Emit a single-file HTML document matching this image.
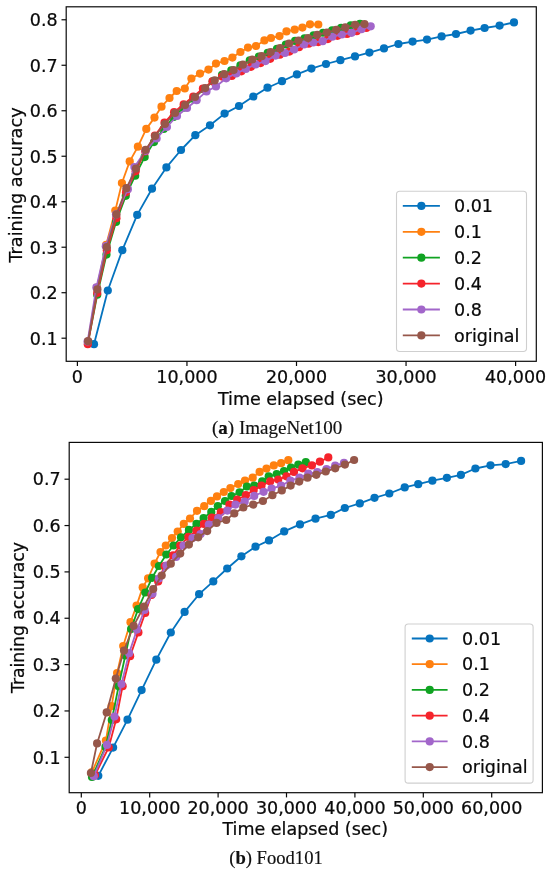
<!DOCTYPE html>
<html lang="en"><head><meta charset="utf-8"><title>Training accuracy vs time elapsed</title>
<style>
html,body{margin:0;padding:0;background:#fff}
body{width:550px;height:870px;overflow:hidden}
svg{display:block}
svg text{font-family:"DejaVu Sans","Liberation Sans",sans-serif;font-size:17.5px;fill:#0a0a0a;stroke:#000;stroke-width:0.22px}
svg text.cap{font-family:"Liberation Serif","DejaVu Serif",serif;font-size:19px;fill:#111;stroke-width:0.15px}
</style></head><body>
<svg width="550" height="870" viewBox="0 0 550 870">
<rect width="550" height="870" fill="#fff"/>
<polyline points="94,344.2 107.8,290.5 122.3,250.2 137.2,214.9 152,188.7 166.4,167.4 181,150 195.3,135.2 210,125.3 224.6,113.6 239,106 253.3,96.5 267.5,87.7 282,81.2 296.9,74.4 311.4,68.6 326,64 340.4,60.2 355,56.4 369.4,52.6 384,48.4 398.4,44 412.6,41.6 427,39.6 441.6,36.4 456,34 470.6,30.6 484.6,28 499.6,25.6 514,22.4" fill="none" stroke="#0573be" stroke-width="1.8" stroke-linejoin="round"/>
<g fill="#0573be"><circle cx="94" cy="344.2" r="4.1"/><circle cx="107.8" cy="290.5" r="4.1"/><circle cx="122.3" cy="250.2" r="4.1"/><circle cx="137.2" cy="214.9" r="4.1"/><circle cx="152" cy="188.7" r="4.1"/><circle cx="166.4" cy="167.4" r="4.1"/><circle cx="181" cy="150" r="4.1"/><circle cx="195.3" cy="135.2" r="4.1"/><circle cx="210" cy="125.3" r="4.1"/><circle cx="224.6" cy="113.6" r="4.1"/><circle cx="239" cy="106" r="4.1"/><circle cx="253.3" cy="96.5" r="4.1"/><circle cx="267.5" cy="87.7" r="4.1"/><circle cx="282" cy="81.2" r="4.1"/><circle cx="296.9" cy="74.4" r="4.1"/><circle cx="311.4" cy="68.6" r="4.1"/><circle cx="326" cy="64" r="4.1"/><circle cx="340.4" cy="60.2" r="4.1"/><circle cx="355" cy="56.4" r="4.1"/><circle cx="369.4" cy="52.6" r="4.1"/><circle cx="384" cy="48.4" r="4.1"/><circle cx="398.4" cy="44" r="4.1"/><circle cx="412.6" cy="41.6" r="4.1"/><circle cx="427" cy="39.6" r="4.1"/><circle cx="441.6" cy="36.4" r="4.1"/><circle cx="456" cy="34" r="4.1"/><circle cx="470.6" cy="30.6" r="4.1"/><circle cx="484.6" cy="28" r="4.1"/><circle cx="499.6" cy="25.6" r="4.1"/><circle cx="514" cy="22.4" r="4.1"/></g>
<polyline points="88,341.5 97,287.5 106.2,244.8 115.3,210.6 121.9,183 129.7,161.4 137.9,146.7 146.3,128.9 154.5,117.6 161.5,106.7 169.5,98 176.7,91 184.8,88.5 191.4,78.5 200,73.6 208.5,69.6 216,63.6 224.5,61 232.4,57.6 240.4,52 248,47.6 256,46 264.4,40.4 271,38 279.5,36.1 286.5,31.4 294.7,29.7 302.4,27.6 310,24.3 318.3,24.5" fill="none" stroke="#ff8010" stroke-width="1.8" stroke-linejoin="round"/>
<g fill="#ff8010"><circle cx="88" cy="341.5" r="4.1"/><circle cx="97" cy="287.5" r="4.1"/><circle cx="106.2" cy="244.8" r="4.1"/><circle cx="115.3" cy="210.6" r="4.1"/><circle cx="121.9" cy="183" r="4.1"/><circle cx="129.7" cy="161.4" r="4.1"/><circle cx="137.9" cy="146.7" r="4.1"/><circle cx="146.3" cy="128.9" r="4.1"/><circle cx="154.5" cy="117.6" r="4.1"/><circle cx="161.5" cy="106.7" r="4.1"/><circle cx="169.5" cy="98" r="4.1"/><circle cx="176.7" cy="91" r="4.1"/><circle cx="184.8" cy="88.5" r="4.1"/><circle cx="191.4" cy="78.5" r="4.1"/><circle cx="200" cy="73.6" r="4.1"/><circle cx="208.5" cy="69.6" r="4.1"/><circle cx="216" cy="63.6" r="4.1"/><circle cx="224.5" cy="61" r="4.1"/><circle cx="232.4" cy="57.6" r="4.1"/><circle cx="240.4" cy="52" r="4.1"/><circle cx="248" cy="47.6" r="4.1"/><circle cx="256" cy="46" r="4.1"/><circle cx="264.4" cy="40.4" r="4.1"/><circle cx="271" cy="38" r="4.1"/><circle cx="279.5" cy="36.1" r="4.1"/><circle cx="286.5" cy="31.4" r="4.1"/><circle cx="294.7" cy="29.7" r="4.1"/><circle cx="302.4" cy="27.6" r="4.1"/><circle cx="310" cy="24.3" r="4.1"/><circle cx="318.3" cy="24.5" r="4.1"/></g>
<polyline points="88.1,342.2 97.25,294.76 106.49,254.59 116.03,221.97 125.78,195.84 135.22,175.68 144.67,157.12 154.01,142.08 163.66,129.02 173.6,117.02 183.45,107.74 193.29,98.86 203.34,89.22 212.69,81.33 222.03,74.92 231.28,70.41 240.42,65.44 249.77,60.24 258.91,56.49 267.75,52.74 277,48.79 285.85,44.5 295.09,40.89 304.54,38.23 313.58,35.39 323.02,32.73 332.17,30.27 341.12,27.8 350.76,25.25 360,23.73" fill="none" stroke="#10a322" stroke-width="1.8" stroke-linejoin="round"/>
<g fill="#10a322"><circle cx="88.1" cy="342.2" r="4.1"/><circle cx="97.25" cy="294.76" r="4.1"/><circle cx="106.49" cy="254.59" r="4.1"/><circle cx="116.03" cy="221.97" r="4.1"/><circle cx="125.78" cy="195.84" r="4.1"/><circle cx="135.22" cy="175.68" r="4.1"/><circle cx="144.67" cy="157.12" r="4.1"/><circle cx="154.01" cy="142.08" r="4.1"/><circle cx="163.66" cy="129.02" r="4.1"/><circle cx="173.6" cy="117.02" r="4.1"/><circle cx="183.45" cy="107.74" r="4.1"/><circle cx="193.29" cy="98.86" r="4.1"/><circle cx="203.34" cy="89.22" r="4.1"/><circle cx="212.69" cy="81.33" r="4.1"/><circle cx="222.03" cy="74.92" r="4.1"/><circle cx="231.28" cy="70.41" r="4.1"/><circle cx="240.42" cy="65.44" r="4.1"/><circle cx="249.77" cy="60.24" r="4.1"/><circle cx="258.91" cy="56.49" r="4.1"/><circle cx="267.75" cy="52.74" r="4.1"/><circle cx="277" cy="48.79" r="4.1"/><circle cx="285.85" cy="44.5" r="4.1"/><circle cx="295.09" cy="40.89" r="4.1"/><circle cx="304.54" cy="38.23" r="4.1"/><circle cx="313.58" cy="35.39" r="4.1"/><circle cx="323.02" cy="32.73" r="4.1"/><circle cx="332.17" cy="30.27" r="4.1"/><circle cx="341.12" cy="27.8" r="4.1"/><circle cx="350.76" cy="25.25" r="4.1"/><circle cx="360" cy="23.73" r="4.1"/></g>
<polyline points="87.8,344.2 97.21,292.96 106.82,250.13 116.43,218.13 126.04,192.15 135.65,171.31 145.26,151.46 154.87,135.53 164.48,122.71 174.09,112.19 183.7,104.24 193.31,96.55 202.92,88.59 212.53,81.36 222.14,76.54 231.76,75.9 241.37,71.35 250.98,66.87 260.59,63.04 270.2,58.84 279.81,54.72 289.42,51.58 299.03,47.26 308.64,43.74 318.25,42.11 327.86,39.08 337.47,35.8 347.08,33.88 356.69,31.23 366.3,27.97" fill="none" stroke="#f5232b" stroke-width="1.8" stroke-linejoin="round"/>
<g fill="#f5232b"><circle cx="87.8" cy="344.2" r="4.1"/><circle cx="97.21" cy="292.96" r="4.1"/><circle cx="106.82" cy="250.13" r="4.1"/><circle cx="116.43" cy="218.13" r="4.1"/><circle cx="126.04" cy="192.15" r="4.1"/><circle cx="135.65" cy="171.31" r="4.1"/><circle cx="145.26" cy="151.46" r="4.1"/><circle cx="154.87" cy="135.53" r="4.1"/><circle cx="164.48" cy="122.71" r="4.1"/><circle cx="174.09" cy="112.19" r="4.1"/><circle cx="183.7" cy="104.24" r="4.1"/><circle cx="193.31" cy="96.55" r="4.1"/><circle cx="202.92" cy="88.59" r="4.1"/><circle cx="212.53" cy="81.36" r="4.1"/><circle cx="222.14" cy="76.54" r="4.1"/><circle cx="231.76" cy="75.9" r="4.1"/><circle cx="241.37" cy="71.35" r="4.1"/><circle cx="250.98" cy="66.87" r="4.1"/><circle cx="260.59" cy="63.04" r="4.1"/><circle cx="270.2" cy="58.84" r="4.1"/><circle cx="279.81" cy="54.72" r="4.1"/><circle cx="289.42" cy="51.58" r="4.1"/><circle cx="299.03" cy="47.26" r="4.1"/><circle cx="308.64" cy="43.74" r="4.1"/><circle cx="318.25" cy="42.11" r="4.1"/><circle cx="327.86" cy="39.08" r="4.1"/><circle cx="337.47" cy="35.8" r="4.1"/><circle cx="347.08" cy="33.88" r="4.1"/><circle cx="356.69" cy="31.23" r="4.1"/><circle cx="366.3" cy="27.97" r="4.1"/></g>
<polyline points="87.6,341.5 96.4,287.4 105.8,246.2 116,214.4 127.9,189.2 134.4,167 145.6,150.8 156.6,138.5 166.9,127 177,116 187,108 196.6,100.2 206.5,91.4 216,86.5 226.2,78.3 236.3,73.4 245.8,69 255.6,64.4 265.5,61.1 275.6,55.6 284.9,53 294.1,49.5 304,44.4 313.2,42.5 322.7,41.2 332.3,36.7 341.8,34.5 351.6,32.8 361.4,29.2 370.7,26.3" fill="none" stroke="#a266ca" stroke-width="1.8" stroke-linejoin="round"/>
<g fill="#a266ca"><circle cx="87.6" cy="341.5" r="4.1"/><circle cx="96.4" cy="287.4" r="4.1"/><circle cx="105.8" cy="246.2" r="4.1"/><circle cx="116" cy="214.4" r="4.1"/><circle cx="127.9" cy="189.2" r="4.1"/><circle cx="134.4" cy="167" r="4.1"/><circle cx="145.6" cy="150.8" r="4.1"/><circle cx="156.6" cy="138.5" r="4.1"/><circle cx="166.9" cy="127" r="4.1"/><circle cx="177" cy="116" r="4.1"/><circle cx="187" cy="108" r="4.1"/><circle cx="196.6" cy="100.2" r="4.1"/><circle cx="206.5" cy="91.4" r="4.1"/><circle cx="216" cy="86.5" r="4.1"/><circle cx="226.2" cy="78.3" r="4.1"/><circle cx="236.3" cy="73.4" r="4.1"/><circle cx="245.8" cy="69" r="4.1"/><circle cx="255.6" cy="64.4" r="4.1"/><circle cx="265.5" cy="61.1" r="4.1"/><circle cx="275.6" cy="55.6" r="4.1"/><circle cx="284.9" cy="53" r="4.1"/><circle cx="294.1" cy="49.5" r="4.1"/><circle cx="304" cy="44.4" r="4.1"/><circle cx="313.2" cy="42.5" r="4.1"/><circle cx="322.7" cy="41.2" r="4.1"/><circle cx="332.3" cy="36.7" r="4.1"/><circle cx="341.8" cy="34.5" r="4.1"/><circle cx="351.6" cy="32.8" r="4.1"/><circle cx="361.4" cy="29.2" r="4.1"/><circle cx="370.7" cy="26.3" r="4.1"/></g>
<polyline points="88.1,341.2 97.4,289.4 106.8,247.2 116.5,214.4 126.4,188.2 136,168.6 145.6,149.8 155.1,136 164.9,124 175,113 185,105 195,97 205.2,88.1 214.7,80.4 224.2,74.2 233.6,70.1 242.9,64.7 252.4,59.5 261.7,56.2 270.7,52.1 280.1,48.2 289.1,43.5 298.5,40.5 308.1,38 317.3,34.8 326.9,32.5 336.2,29.8 345.3,27.4 355.1,24.8 364.5,24.1" fill="none" stroke="#96574a" stroke-width="1.8" stroke-linejoin="round"/>
<g fill="#96574a"><circle cx="88.1" cy="341.2" r="4.1"/><circle cx="97.4" cy="289.4" r="4.1"/><circle cx="106.8" cy="247.2" r="4.1"/><circle cx="116.5" cy="214.4" r="4.1"/><circle cx="126.4" cy="188.2" r="4.1"/><circle cx="136" cy="168.6" r="4.1"/><circle cx="145.6" cy="149.8" r="4.1"/><circle cx="155.1" cy="136" r="4.1"/><circle cx="164.9" cy="124" r="4.1"/><circle cx="175" cy="113" r="4.1"/><circle cx="185" cy="105" r="4.1"/><circle cx="195" cy="97" r="4.1"/><circle cx="205.2" cy="88.1" r="4.1"/><circle cx="214.7" cy="80.4" r="4.1"/><circle cx="224.2" cy="74.2" r="4.1"/><circle cx="233.6" cy="70.1" r="4.1"/><circle cx="242.9" cy="64.7" r="4.1"/><circle cx="252.4" cy="59.5" r="4.1"/><circle cx="261.7" cy="56.2" r="4.1"/><circle cx="270.7" cy="52.1" r="4.1"/><circle cx="280.1" cy="48.2" r="4.1"/><circle cx="289.1" cy="43.5" r="4.1"/><circle cx="298.5" cy="40.5" r="4.1"/><circle cx="308.1" cy="38" r="4.1"/><circle cx="317.3" cy="34.8" r="4.1"/><circle cx="326.9" cy="32.5" r="4.1"/><circle cx="336.2" cy="29.8" r="4.1"/><circle cx="345.3" cy="27.4" r="4.1"/><circle cx="355.1" cy="24.8" r="4.1"/><circle cx="364.5" cy="24.1" r="4.1"/></g>
<rect x="396.5" y="191.3" width="130" height="160.2" rx="3.2" fill="#fff" fill-opacity="0.8" stroke="#cfcfcf" stroke-width="1.1"/>
<line x1="402.8" y1="205.9" x2="439.9" y2="205.9" stroke="#0573be" stroke-width="1.8"/>
<circle cx="421.35" cy="205.9" r="4.1" fill="#0573be"/>
<text x="454" y="212.1">0.01</text>
<line x1="402.8" y1="231.8" x2="439.9" y2="231.8" stroke="#ff8010" stroke-width="1.8"/>
<circle cx="421.35" cy="231.8" r="4.1" fill="#ff8010"/>
<text x="454" y="238">0.1</text>
<line x1="402.8" y1="257.7" x2="439.9" y2="257.7" stroke="#10a322" stroke-width="1.8"/>
<circle cx="421.35" cy="257.7" r="4.1" fill="#10a322"/>
<text x="454" y="263.9">0.2</text>
<line x1="402.8" y1="283.6" x2="439.9" y2="283.6" stroke="#f5232b" stroke-width="1.8"/>
<circle cx="421.35" cy="283.6" r="4.1" fill="#f5232b"/>
<text x="454" y="289.8">0.4</text>
<line x1="402.8" y1="309.5" x2="439.9" y2="309.5" stroke="#a266ca" stroke-width="1.8"/>
<circle cx="421.35" cy="309.5" r="4.1" fill="#a266ca"/>
<text x="454" y="315.7">0.8</text>
<line x1="402.8" y1="335.4" x2="439.9" y2="335.4" stroke="#96574a" stroke-width="1.8"/>
<circle cx="421.35" cy="335.4" r="4.1" fill="#96574a"/>
<text x="454" y="341.6">original</text>
<rect x="66.2" y="6.8" width="470.1" height="354.5" fill="none" stroke="#0a0a0a" stroke-width="1.2"/>
<line x1="77.4" y1="361.3" x2="77.4" y2="366" stroke="#0a0a0a" stroke-width="1.2"/>
<text x="77.4" y="382.7" text-anchor="middle">0</text>
<line x1="186.95" y1="361.3" x2="186.95" y2="366" stroke="#0a0a0a" stroke-width="1.2"/>
<text x="186.95" y="382.7" text-anchor="middle">10,000</text>
<line x1="296.5" y1="361.3" x2="296.5" y2="366" stroke="#0a0a0a" stroke-width="1.2"/>
<text x="296.5" y="382.7" text-anchor="middle">20,000</text>
<line x1="406.05" y1="361.3" x2="406.05" y2="366" stroke="#0a0a0a" stroke-width="1.2"/>
<text x="406.05" y="382.7" text-anchor="middle">30,000</text>
<line x1="515.6" y1="361.3" x2="515.6" y2="366" stroke="#0a0a0a" stroke-width="1.2"/>
<text x="515.6" y="382.7" text-anchor="middle">40,000</text>
<line x1="61.5" y1="338.2" x2="66.2" y2="338.2" stroke="#0a0a0a" stroke-width="1.2"/>
<text x="57.6" y="344.8" text-anchor="end">0.1</text>
<line x1="61.5" y1="292.71" x2="66.2" y2="292.71" stroke="#0a0a0a" stroke-width="1.2"/>
<text x="57.6" y="299.31" text-anchor="end">0.2</text>
<line x1="61.5" y1="247.22" x2="66.2" y2="247.22" stroke="#0a0a0a" stroke-width="1.2"/>
<text x="57.6" y="253.82" text-anchor="end">0.3</text>
<line x1="61.5" y1="201.73" x2="66.2" y2="201.73" stroke="#0a0a0a" stroke-width="1.2"/>
<text x="57.6" y="208.33" text-anchor="end">0.4</text>
<line x1="61.5" y1="156.24" x2="66.2" y2="156.24" stroke="#0a0a0a" stroke-width="1.2"/>
<text x="57.6" y="162.84" text-anchor="end">0.5</text>
<line x1="61.5" y1="110.75" x2="66.2" y2="110.75" stroke="#0a0a0a" stroke-width="1.2"/>
<text x="57.6" y="117.35" text-anchor="end">0.6</text>
<line x1="61.5" y1="65.26" x2="66.2" y2="65.26" stroke="#0a0a0a" stroke-width="1.2"/>
<text x="57.6" y="71.86" text-anchor="end">0.7</text>
<line x1="61.5" y1="19.77" x2="66.2" y2="19.77" stroke="#0a0a0a" stroke-width="1.2"/>
<text x="57.6" y="26.37" text-anchor="end">0.8</text>
<text x="300.7" y="405.1" text-anchor="middle">Time elapsed (sec)</text>
<text transform="translate(21.8,185) rotate(-90)" text-anchor="middle" style="font-size:17.7px">Training accuracy</text>
<text class="cap" x="277.2" y="433.7" text-anchor="middle">(<tspan font-weight="bold">a</tspan>) ImageNet100</text>
<g style="font-size:17.0px">
<polyline points="98.3,775.8 113.1,747.6 127.5,719.7 141.6,690.1 156.3,659.7 170.8,632.5 184.6,611.9 199.1,594.2 213.3,581.4 227.2,568.5 241.4,556.3 255.5,546.7 269,540.4 284.2,531.4 300,524.4 315.5,518.7 330.8,514.9 344.8,508 359.8,503.4 374.5,497.8 389.3,493.5 404.7,487.4 418.2,484.2 432.4,480.7 446.9,477.8 460.9,474.9 475.4,468.5 490.5,465.3 505.7,464.1 521.1,460.9" fill="none" stroke="#0573be" stroke-width="1.8" stroke-linejoin="round"/>
<g fill="#0573be"><circle cx="98.3" cy="775.8" r="4.1"/><circle cx="113.1" cy="747.6" r="4.1"/><circle cx="127.5" cy="719.7" r="4.1"/><circle cx="141.6" cy="690.1" r="4.1"/><circle cx="156.3" cy="659.7" r="4.1"/><circle cx="170.8" cy="632.5" r="4.1"/><circle cx="184.6" cy="611.9" r="4.1"/><circle cx="199.1" cy="594.2" r="4.1"/><circle cx="213.3" cy="581.4" r="4.1"/><circle cx="227.2" cy="568.5" r="4.1"/><circle cx="241.4" cy="556.3" r="4.1"/><circle cx="255.5" cy="546.7" r="4.1"/><circle cx="269" cy="540.4" r="4.1"/><circle cx="284.2" cy="531.4" r="4.1"/><circle cx="300" cy="524.4" r="4.1"/><circle cx="315.5" cy="518.7" r="4.1"/><circle cx="330.8" cy="514.9" r="4.1"/><circle cx="344.8" cy="508" r="4.1"/><circle cx="359.8" cy="503.4" r="4.1"/><circle cx="374.5" cy="497.8" r="4.1"/><circle cx="389.3" cy="493.5" r="4.1"/><circle cx="404.7" cy="487.4" r="4.1"/><circle cx="418.2" cy="484.2" r="4.1"/><circle cx="432.4" cy="480.7" r="4.1"/><circle cx="446.9" cy="477.8" r="4.1"/><circle cx="460.9" cy="474.9" r="4.1"/><circle cx="475.4" cy="468.5" r="4.1"/><circle cx="490.5" cy="465.3" r="4.1"/><circle cx="505.7" cy="464.1" r="4.1"/><circle cx="521.1" cy="460.9" r="4.1"/></g>
<polyline points="92,772 105.9,740.6 111.6,706.1 117.1,673.1 123.2,646.1 130.5,622.2 136.6,605.6 142.7,587.4 148.1,578.3 154.6,563.5 160.5,552 165.8,545.5 172,538.1 177.7,531.5 183.8,523.9 190,518.5 197,510.8 204.2,506.2 210.9,500.9 217,496.4 223.8,492 230.4,488.1 238.2,484 245,480.6 252.7,477.7 259.6,471.9 266.5,468.6 273.8,465.4 281.1,463.2 288.3,460.2" fill="none" stroke="#ff8010" stroke-width="1.8" stroke-linejoin="round"/>
<g fill="#ff8010"><circle cx="92" cy="772" r="4.1"/><circle cx="105.9" cy="740.6" r="4.1"/><circle cx="111.6" cy="706.1" r="4.1"/><circle cx="117.1" cy="673.1" r="4.1"/><circle cx="123.2" cy="646.1" r="4.1"/><circle cx="130.5" cy="622.2" r="4.1"/><circle cx="136.6" cy="605.6" r="4.1"/><circle cx="142.7" cy="587.4" r="4.1"/><circle cx="148.1" cy="578.3" r="4.1"/><circle cx="154.6" cy="563.5" r="4.1"/><circle cx="160.5" cy="552" r="4.1"/><circle cx="165.8" cy="545.5" r="4.1"/><circle cx="172" cy="538.1" r="4.1"/><circle cx="177.7" cy="531.5" r="4.1"/><circle cx="183.8" cy="523.9" r="4.1"/><circle cx="190" cy="518.5" r="4.1"/><circle cx="197" cy="510.8" r="4.1"/><circle cx="204.2" cy="506.2" r="4.1"/><circle cx="210.9" cy="500.9" r="4.1"/><circle cx="217" cy="496.4" r="4.1"/><circle cx="223.8" cy="492" r="4.1"/><circle cx="230.4" cy="488.1" r="4.1"/><circle cx="238.2" cy="484" r="4.1"/><circle cx="245" cy="480.6" r="4.1"/><circle cx="252.7" cy="477.7" r="4.1"/><circle cx="259.6" cy="471.9" r="4.1"/><circle cx="266.5" cy="468.6" r="4.1"/><circle cx="273.8" cy="465.4" r="4.1"/><circle cx="281.1" cy="463.2" r="4.1"/><circle cx="288.3" cy="460.2" r="4.1"/></g>
<polyline points="92,777 105.5,746.9 111.8,720 118.6,686.2 125.3,655.5 131.1,629 138.1,609.1 145.3,592.5 152.1,577.8 158.9,566 166.3,554.5 173.6,545.5 181,537.3 188.9,529.9 196.5,523.9 203.6,518 211.3,511.9 217.8,506.2 225,501 231.5,496 239.6,492.3 246.9,486.5 254.2,485.7 262.2,481.4 268.7,476.3 276.7,474.1 284,471.2 291,467.6 298.3,464.6 305.8,462.2" fill="none" stroke="#10a322" stroke-width="1.8" stroke-linejoin="round"/>
<g fill="#10a322"><circle cx="92" cy="777" r="4.1"/><circle cx="105.5" cy="746.9" r="4.1"/><circle cx="111.8" cy="720" r="4.1"/><circle cx="118.6" cy="686.2" r="4.1"/><circle cx="125.3" cy="655.5" r="4.1"/><circle cx="131.1" cy="629" r="4.1"/><circle cx="138.1" cy="609.1" r="4.1"/><circle cx="145.3" cy="592.5" r="4.1"/><circle cx="152.1" cy="577.8" r="4.1"/><circle cx="158.9" cy="566" r="4.1"/><circle cx="166.3" cy="554.5" r="4.1"/><circle cx="173.6" cy="545.5" r="4.1"/><circle cx="181" cy="537.3" r="4.1"/><circle cx="188.9" cy="529.9" r="4.1"/><circle cx="196.5" cy="523.9" r="4.1"/><circle cx="203.6" cy="518" r="4.1"/><circle cx="211.3" cy="511.9" r="4.1"/><circle cx="217.8" cy="506.2" r="4.1"/><circle cx="225" cy="501" r="4.1"/><circle cx="231.5" cy="496" r="4.1"/><circle cx="239.6" cy="492.3" r="4.1"/><circle cx="246.9" cy="486.5" r="4.1"/><circle cx="254.2" cy="485.7" r="4.1"/><circle cx="262.2" cy="481.4" r="4.1"/><circle cx="268.7" cy="476.3" r="4.1"/><circle cx="276.7" cy="474.1" r="4.1"/><circle cx="284" cy="471.2" r="4.1"/><circle cx="291" cy="467.6" r="4.1"/><circle cx="298.3" cy="464.6" r="4.1"/><circle cx="305.8" cy="462.2" r="4.1"/></g>
<polyline points="95,775 108.7,747.5 116.2,719.3 122.6,686.2 130.1,656.2 138.4,632.4 145.2,613 151.5,595 158.2,581.5 164.5,566 173.1,555.3 180.2,545.5 188.4,536.9 196.5,530.7 203.9,523.9 211.8,517.6 220.8,512 229.4,504.6 237.2,499.5 245.9,495.2 253.7,490.1 261.5,485.7 270.2,481.4 278.2,479.6 286.4,476.3 294,471.9 302.5,468.3 311.9,465.4 319.9,461.7 328.3,457.4" fill="none" stroke="#f5232b" stroke-width="1.8" stroke-linejoin="round"/>
<g fill="#f5232b"><circle cx="95" cy="775" r="4.1"/><circle cx="108.7" cy="747.5" r="4.1"/><circle cx="116.2" cy="719.3" r="4.1"/><circle cx="122.6" cy="686.2" r="4.1"/><circle cx="130.1" cy="656.2" r="4.1"/><circle cx="138.4" cy="632.4" r="4.1"/><circle cx="145.2" cy="613" r="4.1"/><circle cx="151.5" cy="595" r="4.1"/><circle cx="158.2" cy="581.5" r="4.1"/><circle cx="164.5" cy="566" r="4.1"/><circle cx="173.1" cy="555.3" r="4.1"/><circle cx="180.2" cy="545.5" r="4.1"/><circle cx="188.4" cy="536.9" r="4.1"/><circle cx="196.5" cy="530.7" r="4.1"/><circle cx="203.9" cy="523.9" r="4.1"/><circle cx="211.8" cy="517.6" r="4.1"/><circle cx="220.8" cy="512" r="4.1"/><circle cx="229.4" cy="504.6" r="4.1"/><circle cx="237.2" cy="499.5" r="4.1"/><circle cx="245.9" cy="495.2" r="4.1"/><circle cx="253.7" cy="490.1" r="4.1"/><circle cx="261.5" cy="485.7" r="4.1"/><circle cx="270.2" cy="481.4" r="4.1"/><circle cx="278.2" cy="479.6" r="4.1"/><circle cx="286.4" cy="476.3" r="4.1"/><circle cx="294" cy="471.9" r="4.1"/><circle cx="302.5" cy="468.3" r="4.1"/><circle cx="311.9" cy="465.4" r="4.1"/><circle cx="319.9" cy="461.7" r="4.1"/><circle cx="328.3" cy="457.4" r="4.1"/></g>
<polyline points="93.8,776.2 107,744.9 114.5,716.5 121.5,684 129.1,653.2 137,629.6 144.6,610 152.5,593.7 158.9,578.5 166.4,565.5 176.1,556.9 183.5,545.5 192.5,538.1 200.6,534 208.8,524.5 218.3,518 227.4,510.6 235.5,504.6 244.7,501.7 254.2,495.9 263.6,491.8 271.6,488.6 281.1,485.7 290.4,480.6 299.5,477.5 308.3,473.6 317.3,472 326.5,469 335.2,465.6 344,462.9" fill="none" stroke="#a266ca" stroke-width="1.8" stroke-linejoin="round"/>
<g fill="#a266ca"><circle cx="93.8" cy="776.2" r="4.1"/><circle cx="107" cy="744.9" r="4.1"/><circle cx="114.5" cy="716.5" r="4.1"/><circle cx="121.5" cy="684" r="4.1"/><circle cx="129.1" cy="653.2" r="4.1"/><circle cx="137" cy="629.6" r="4.1"/><circle cx="144.6" cy="610" r="4.1"/><circle cx="152.5" cy="593.7" r="4.1"/><circle cx="158.9" cy="578.5" r="4.1"/><circle cx="166.4" cy="565.5" r="4.1"/><circle cx="176.1" cy="556.9" r="4.1"/><circle cx="183.5" cy="545.5" r="4.1"/><circle cx="192.5" cy="538.1" r="4.1"/><circle cx="200.6" cy="534" r="4.1"/><circle cx="208.8" cy="524.5" r="4.1"/><circle cx="218.3" cy="518" r="4.1"/><circle cx="227.4" cy="510.6" r="4.1"/><circle cx="235.5" cy="504.6" r="4.1"/><circle cx="244.7" cy="501.7" r="4.1"/><circle cx="254.2" cy="495.9" r="4.1"/><circle cx="263.6" cy="491.8" r="4.1"/><circle cx="271.6" cy="488.6" r="4.1"/><circle cx="281.1" cy="485.7" r="4.1"/><circle cx="290.4" cy="480.6" r="4.1"/><circle cx="299.5" cy="477.5" r="4.1"/><circle cx="308.3" cy="473.6" r="4.1"/><circle cx="317.3" cy="472" r="4.1"/><circle cx="326.5" cy="469" r="4.1"/><circle cx="335.2" cy="465.6" r="4.1"/><circle cx="344" cy="462.9" r="4.1"/></g>
<polyline points="90.9,773 97.1,743.4 106.7,712.4 115.8,678.6 124,650.6 133.6,625.8 143.9,606.5 153.2,589 161.7,575.6 170.8,563.7 180.2,553.6 188.9,544.6 198.2,537.3 207.2,531.1 216.5,522.9 226.2,520 234.3,513.4 243.3,507.5 253.2,504.6 262.9,501 272.4,495.2 281.8,490.4 290.6,485.6 299.2,481.6 307.5,477.7 316.3,474.8 325.7,471.5 335.2,468.3 344.9,464.6 354.1,460" fill="none" stroke="#96574a" stroke-width="1.8" stroke-linejoin="round"/>
<g fill="#96574a"><circle cx="90.9" cy="773" r="4.1"/><circle cx="97.1" cy="743.4" r="4.1"/><circle cx="106.7" cy="712.4" r="4.1"/><circle cx="115.8" cy="678.6" r="4.1"/><circle cx="124" cy="650.6" r="4.1"/><circle cx="133.6" cy="625.8" r="4.1"/><circle cx="143.9" cy="606.5" r="4.1"/><circle cx="153.2" cy="589" r="4.1"/><circle cx="161.7" cy="575.6" r="4.1"/><circle cx="170.8" cy="563.7" r="4.1"/><circle cx="180.2" cy="553.6" r="4.1"/><circle cx="188.9" cy="544.6" r="4.1"/><circle cx="198.2" cy="537.3" r="4.1"/><circle cx="207.2" cy="531.1" r="4.1"/><circle cx="216.5" cy="522.9" r="4.1"/><circle cx="226.2" cy="520" r="4.1"/><circle cx="234.3" cy="513.4" r="4.1"/><circle cx="243.3" cy="507.5" r="4.1"/><circle cx="253.2" cy="504.6" r="4.1"/><circle cx="262.9" cy="501" r="4.1"/><circle cx="272.4" cy="495.2" r="4.1"/><circle cx="281.8" cy="490.4" r="4.1"/><circle cx="290.6" cy="485.6" r="4.1"/><circle cx="299.2" cy="481.6" r="4.1"/><circle cx="307.5" cy="477.7" r="4.1"/><circle cx="316.3" cy="474.8" r="4.1"/><circle cx="325.7" cy="471.5" r="4.1"/><circle cx="335.2" cy="468.3" r="4.1"/><circle cx="344.9" cy="464.6" r="4.1"/><circle cx="354.1" cy="460" r="4.1"/></g>
<rect x="405.1" y="624" width="128" height="159.1" rx="3.2" fill="#fff" fill-opacity="0.8" stroke="#cfcfcf" stroke-width="1.1"/>
<line x1="411.8" y1="638.5" x2="447.6" y2="638.5" stroke="#0573be" stroke-width="1.8"/>
<circle cx="429.7" cy="638.5" r="4.1" fill="#0573be"/>
<text x="462.1" y="644.7">0.01</text>
<line x1="411.8" y1="664.22" x2="447.6" y2="664.22" stroke="#ff8010" stroke-width="1.8"/>
<circle cx="429.7" cy="664.22" r="4.1" fill="#ff8010"/>
<text x="462.1" y="670.42">0.1</text>
<line x1="411.8" y1="689.94" x2="447.6" y2="689.94" stroke="#10a322" stroke-width="1.8"/>
<circle cx="429.7" cy="689.94" r="4.1" fill="#10a322"/>
<text x="462.1" y="696.14">0.2</text>
<line x1="411.8" y1="715.66" x2="447.6" y2="715.66" stroke="#f5232b" stroke-width="1.8"/>
<circle cx="429.7" cy="715.66" r="4.1" fill="#f5232b"/>
<text x="462.1" y="721.86">0.4</text>
<line x1="411.8" y1="741.38" x2="447.6" y2="741.38" stroke="#a266ca" stroke-width="1.8"/>
<circle cx="429.7" cy="741.38" r="4.1" fill="#a266ca"/>
<text x="462.1" y="747.58">0.8</text>
<line x1="411.8" y1="767.1" x2="447.6" y2="767.1" stroke="#96574a" stroke-width="1.8"/>
<circle cx="429.7" cy="767.1" r="4.1" fill="#96574a"/>
<text x="462.1" y="773.3">original</text>
<rect x="69.2" y="442.4" width="473.2" height="350.3" fill="none" stroke="#0a0a0a" stroke-width="1.2"/>
<line x1="81.3" y1="792.7" x2="81.3" y2="797.4" stroke="#0a0a0a" stroke-width="1.2"/>
<text x="81.3" y="813.5" text-anchor="middle">0</text>
<line x1="149.7" y1="792.7" x2="149.7" y2="797.4" stroke="#0a0a0a" stroke-width="1.2"/>
<text x="149.7" y="813.5" text-anchor="middle">10,000</text>
<line x1="218.1" y1="792.7" x2="218.1" y2="797.4" stroke="#0a0a0a" stroke-width="1.2"/>
<text x="218.1" y="813.5" text-anchor="middle">20,000</text>
<line x1="286.5" y1="792.7" x2="286.5" y2="797.4" stroke="#0a0a0a" stroke-width="1.2"/>
<text x="286.5" y="813.5" text-anchor="middle">30,000</text>
<line x1="354.9" y1="792.7" x2="354.9" y2="797.4" stroke="#0a0a0a" stroke-width="1.2"/>
<text x="354.9" y="813.5" text-anchor="middle">40,000</text>
<line x1="423.3" y1="792.7" x2="423.3" y2="797.4" stroke="#0a0a0a" stroke-width="1.2"/>
<text x="423.3" y="813.5" text-anchor="middle">50,000</text>
<line x1="491.7" y1="792.7" x2="491.7" y2="797.4" stroke="#0a0a0a" stroke-width="1.2"/>
<text x="491.7" y="813.5" text-anchor="middle">60,000</text>
<line x1="64.5" y1="757.3" x2="69.2" y2="757.3" stroke="#0a0a0a" stroke-width="1.2"/>
<text x="60.6" y="763.5" text-anchor="end">0.1</text>
<line x1="64.5" y1="710.95" x2="69.2" y2="710.95" stroke="#0a0a0a" stroke-width="1.2"/>
<text x="60.6" y="717.15" text-anchor="end">0.2</text>
<line x1="64.5" y1="664.6" x2="69.2" y2="664.6" stroke="#0a0a0a" stroke-width="1.2"/>
<text x="60.6" y="670.8" text-anchor="end">0.3</text>
<line x1="64.5" y1="618.25" x2="69.2" y2="618.25" stroke="#0a0a0a" stroke-width="1.2"/>
<text x="60.6" y="624.45" text-anchor="end">0.4</text>
<line x1="64.5" y1="571.9" x2="69.2" y2="571.9" stroke="#0a0a0a" stroke-width="1.2"/>
<text x="60.6" y="578.1" text-anchor="end">0.5</text>
<line x1="64.5" y1="525.55" x2="69.2" y2="525.55" stroke="#0a0a0a" stroke-width="1.2"/>
<text x="60.6" y="531.75" text-anchor="end">0.6</text>
<line x1="64.5" y1="479.2" x2="69.2" y2="479.2" stroke="#0a0a0a" stroke-width="1.2"/>
<text x="60.6" y="485.4" text-anchor="end">0.7</text>
<text x="305.2" y="834.5" text-anchor="middle">Time elapsed (sec)</text>
<text transform="translate(23.5,617.6) rotate(-90)" text-anchor="middle" style="font-size:17.19px">Training accuracy</text>
</g>
<text class="cap" x="276" y="863.7" text-anchor="middle" style="font-size:18.6px">(<tspan font-weight="bold">b</tspan>) Food101</text>
</svg>
</body></html>
